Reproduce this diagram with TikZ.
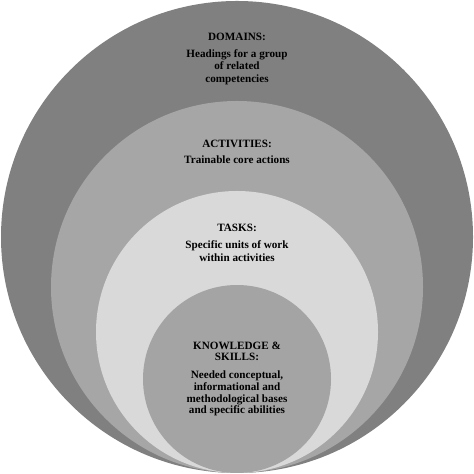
\documentclass[tikz,border=0pt]{standalone}
\usepackage{fontspec}
\setmainfont{Liberation Serif}
\usepackage{xcolor}
\definecolor{ringA}{gray}{0.50}
\definecolor{ringB}{gray}{0.65}
\definecolor{ringC}{gray}{0.85}
\definecolor{ringD}{gray}{0.645}
\tikzset{
	ringtext/.style={align=center, inner sep=0pt, font=\bfseries\fontsize{11.2}{13}\selectfont},
	coretext/.style={ringtext, font=\bfseries\fontsize{11.2}{11.8}\selectfont}
}

\begin{document}
\begin{tikzpicture}[x=1bp,y=1bp]
	\def\mx{237}
	\useasboundingbox (0,0) rectangle (474,474);
	
	% Nested circles, all touching at the bottom
	\fill[white] (0,0) rectangle (474,474);
	\fill[ringA] (\mx,237) circle (236);
	\fill[ringB] (\mx,187) circle (186);
	\fill[ringC] (\mx,142) circle (141);
	\fill[ringD] (\mx,95) circle (94);
	
	% Labels
	\node[ringtext] (domains) at (\mx,415) {DOMAINS:\\[4bp]Headings for a group\\of related\\competencies};
	\node[ringtext] (activities) at (\mx,322) {ACTIVITIES:\\[3bp]Trainable core actions};
	\node[ringtext] (tasks) at (\mx,231) {TASKS:\\[4bp]Specific units of work\\within activities};
	\node[coretext] (knowledge) at (\mx,95) {KNOWLEDGE \&\\SKILLS:\\[6bp]Needed conceptual,\\informational and\\methodological bases\\and specific abilities};
\end{tikzpicture}
\end{document}
